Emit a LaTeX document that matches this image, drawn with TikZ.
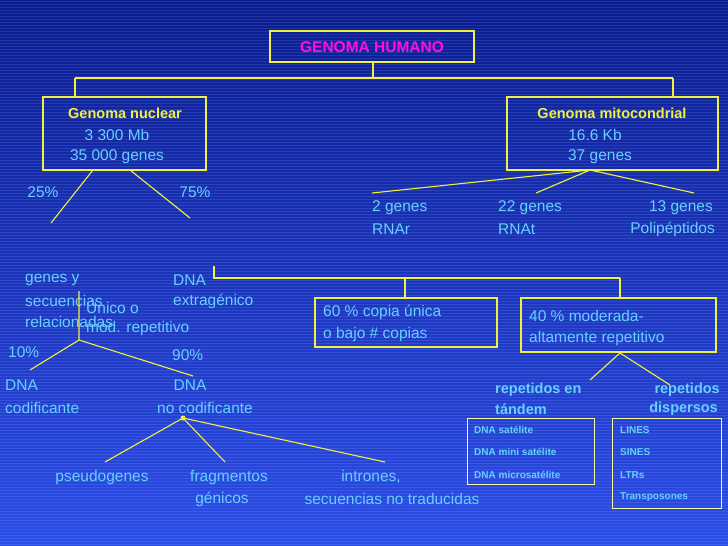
\documentclass[tikz,border=0pt]{standalone}
\usepackage{fontspec}
\setmainfont{Liberation Sans}
\definecolor{bgtop}{HTML}{0A1C90}
\definecolor{bgbot}{HTML}{2A4CE8}
\definecolor{cy}{HTML}{66D0FF}
\definecolor{ye}{HTML}{F0F040}
\definecolor{mg}{HTML}{FF10E0}
\begin{document}
\begin{tikzpicture}[x=1pt,y=-1pt,
 t/.style={text=cy,font=\fontsize{15.5}{17}\selectfont,inner sep=0pt,align=left},
 tb/.style={t,font=\fontsize{14.5}{18}\selectfont\bfseries},
 sm/.style={t,font=\fontsize{10}{22}\selectfont\bfseries},
 ln/.style={draw=ye,line width=1.1pt},
 bx/.style={draw=ye,line width=1.1pt}]
\shade[top color=bgtop,bottom color=bgbot] (0,0) rectangle (728,546);
\useasboundingbox (0,0) rectangle (728,546);
\foreach \y in {1,4,...,546} \draw[white,opacity=0.1,line width=0.8pt] (0,\y) -- (728,\y);
% top
\draw[bx] (270,31) rectangle (474,62);
\node[inner sep=0pt,text=mg,font=\fontsize{15.5}{17}\selectfont\bfseries] (gh) at (372,47) {GENOMA HUMANO};
\draw[bx] (43,97) rectangle (206,170);
\node[tb,text=ye] (gn) at (125,113) {Genoma nuclear};
\node[t] at (117,135) {3 300 Mb};
\node[t] at (117,157) {35 000 genes};
\draw[bx] (507,97) rectangle (718,170);
\node[tb,text=ye] (gm) at (612,113) {Genoma mitocondrial};
\node[t] at (595,135) {16.6 Kb};
\node[t] at (600,157) {37 genes};
\coordinate (h0) at (373,62);
\draw[ln] (h0) -- (373,78) (75,78) -- (673,78) (75,78) -- (75,97) (673,78) -- (673,97);
% nuclear branches
\coordinate (n1) at (93,170); \coordinate (n2) at (130,170);
\draw[ln] (n1) -- (51,223) (n2) -- (190,218);
\node[t] at (43,192) {25\%};
\node[t] at (195,192) {75\%};
% mito branches
\coordinate (m0) at (590,170);
\draw[ln] (m0) -- (372,193) (m0) -- (536,193) (m0) -- (694,193);
\node[t,anchor=west] at (372,208) {2 genes};
\node[t,anchor=west] at (372,229) {RNAr};
\node[t,anchor=west] at (498,208) {22 genes};
\node[t,anchor=west] at (498,229) {RNAt};
\node[t,anchor=east] at (713,208) {13 genes};
\node[t,anchor=east] at (715,229) {Polipéptidos};
% left level
\node[t,anchor=west] at (25,280) {genes y};
\node[t,anchor=west] at (25,301) {secuencias};
\node[t,anchor=west] at (25,322) {relacionadas};
\node[t,anchor=west] at (86,307) {Único o};
\node[t,anchor=west] at (86,328) {mod. repetitivo};
\node[t,anchor=west] at (173,280) {DNA};
\node[t,anchor=west] at (173,301) {extragénico};
\draw[ln] (214,266) -- (214,278) -- (620,278) (405,278) -- (405,298) (620,278) -- (620,298);
\draw[bx] (315,298) rectangle (497,347);
\node[t,anchor=west] at (323,312) {60 \% copia única};
\node[t,anchor=west] at (323,334) {o bajo \# copias};
\draw[bx] (521,298) rectangle (716,352);
\node[t,anchor=west] at (529,316) {40 \% moderada-};
\node[t,anchor=west] at (529,338) {altamente repetitivo};
% coding
\coordinate (c0) at (79,340);
\draw[ln] (79,291) -- (c0) -- (30,370) (c0) -- (193,376);
\node[t,anchor=west] at (8,352) {10\%};
\node[t,anchor=west] at (172,355) {90\%};
\node[t,anchor=west] at (5,385) {DNA};
\node[t,anchor=west] at (5,408) {codificante};
\node[t] at (190,385) {DNA};
\node[t] at (205,408) {no codificante};
\coordinate (d0) at (183,418);
\fill[ye] (d0) circle (2.5);
\draw[ln] (d0) -- (105,462) (d0) -- (225,462) (d0) -- (385,462);
\node[t] at (102,477) {pseudogenes};
\node[t] at (229,477) {fragmentos};
\node[t] at (222,499) {génicos};
\node[t] at (371,477) {intrones,};
\node[t] at (392,499) {secuencias no traducidas};
% repeats
\coordinate (r0) at (620,353);
\draw[ln] (r0) -- (590,380) (r0) -- (670,385);
\node[tb,anchor=west] at (495,390) {repetidos en};
\node[tb,anchor=west] at (495,409) {tándem};
\node[tb,anchor=east] at (720,390) {repetidos};
\node[tb,anchor=east] at (718,409) {dispersos};
\draw[bx,line width=0.9pt,draw=ye!50!white] (467,418) rectangle (594,484);
\node[sm,anchor=west] at (474,430) {DNA satélite};
\node[sm,anchor=west] at (474,452) {DNA mini satélite};
\node[sm,anchor=west] at (474,475) {DNA microsatélite};
\draw[bx,line width=0.9pt,draw=ye!50!white] (612,418) rectangle (721,508);
\node[sm,anchor=west] at (620,430) {LINES};
\node[sm,anchor=west] at (620,452) {SINES};
\node[sm,anchor=west] at (620,475) {LTRs};
\node[sm,anchor=west] at (620,497) {Transposones};
\end{tikzpicture}
\end{document}
